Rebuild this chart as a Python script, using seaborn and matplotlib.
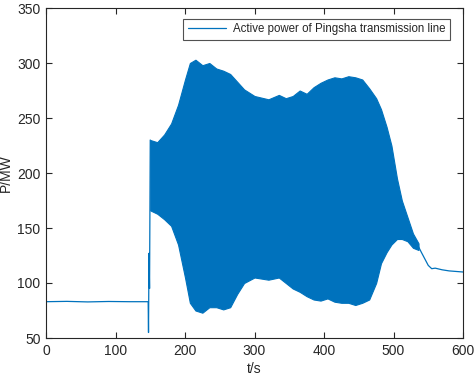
import matplotlib
matplotlib.use("Agg")
import matplotlib.pyplot as plt
import seaborn as sns
import pandas as pd
import numpy as np

# --- data ---
# steady line before the disturbance and the disturbance spike
t_pre = [0, 30, 60, 90, 120, 147, 147.5, 148.2, 149.0, 150.0]
p_pre = [83, 83.3, 82.8, 83.2, 83.0, 83.0, 55, 127, 95, 230]

# envelope of the oscillation (upper / lower) during the disturbance
t_env = [150, 160, 170, 180, 190, 200, 207, 215, 225, 235, 245, 255, 265, 275,
         285, 300, 320, 335, 345, 355, 365, 375, 385, 395, 405, 415, 425, 435,
         445, 455, 465, 475, 482, 490, 497, 505, 512, 520, 528, 536]
p_upper = [230, 228, 235, 245, 262, 285, 300, 303, 298, 300, 295, 293, 290, 283,
           276, 270, 267, 271, 268, 270, 275, 272, 278, 282, 285, 287, 286, 288,
           287, 285, 277, 268, 258, 242, 225, 195, 175, 160, 145, 136]
p_lower = [166, 163, 158, 152, 135, 105, 82, 75, 73, 78, 78, 76, 78, 90,
           100, 105, 103, 105, 100, 95, 92, 88, 85, 84, 86, 83, 82, 82,
           80, 82, 85, 100, 118, 128, 135, 140, 140, 138, 132, 130]

# recovery tail after the oscillation
t_post = [536, 540, 545, 550, 555, 560, 570, 580, 590, 600]
p_post = [133, 128, 122, 116, 113, 113.5, 112, 111, 110.5, 110]

blue = "#0072BD"

sns.set_theme(style="white")
plt.rcParams["font.family"] = ["Liberation Sans", "DejaVu Sans"]

fig = plt.figure(figsize=(4.74, 3.79), dpi=100)
ax = fig.add_axes([46 / 474, 41 / 379, (463 - 46) / 474, (338 - 8) / 379])

df_pre = pd.DataFrame({"t": t_pre, "p": p_pre})
df_post = pd.DataFrame({"t": t_post, "p": p_post})

sns.lineplot(data=df_pre, x="t", y="p", ax=ax, color=blue, linewidth=0.9,
             label="Active power of Pingsha transmission line", sort=False)
ax.fill_between(t_env, p_lower, p_upper, color=blue, linewidth=0.8,
                edgecolor=blue)
sns.lineplot(data=df_post, x="t", y="p", ax=ax, color=blue, linewidth=0.9,
             sort=False, legend=False)

ax.set_xlim(0, 600)
ax.set_ylim(50, 350)
ax.set_xticks(np.arange(0, 601, 100))
ax.set_yticks(np.arange(50, 351, 50))
ax.set_xlabel("t/s", fontsize=10, color="#262626", labelpad=3)
ax.set_ylabel("P/MW", fontsize=10, color="#262626", labelpad=3)

for s in ax.spines.values():
    s.set_visible(True)
    s.set_color("#262626")
    s.set_linewidth(0.8)
ax.tick_params(direction="in", length=4, width=0.8, top=True, right=True,
               bottom=True, left=True, labelsize=10, colors="#262626",
               pad=4)
for lbl in ax.get_xticklabels() + ax.get_yticklabels():
    lbl.set_color("#262626")
ax.grid(False)

leg = ax.legend(loc="upper right", fontsize=8.3, frameon=True, fancybox=False,
                edgecolor="#262626", borderpad=0.4, handlelength=3.3,
                handletextpad=0.6, bbox_to_anchor=(0.982, 0.985))
leg.get_frame().set_linewidth(0.8)

fig.savefig("out.png", dpi=100)
